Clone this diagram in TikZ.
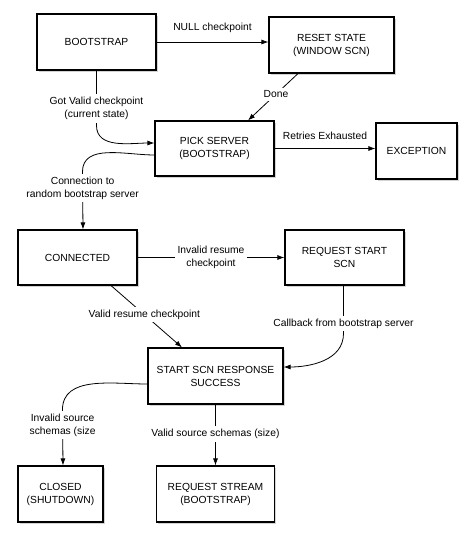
\documentclass[tikz,border=0pt]{standalone}
\usepackage{fontspec}
\setmainfont{Liberation Sans}
\usetikzlibrary{shadows,arrows.meta}

\begin{document}
\begin{tikzpicture}[x=1pt,y=1pt,>={Latex[length=7pt,width=5pt]},font=\fontsize{10.3}{13}\selectfont]

      \path[use as bounding box] (0,0) rectangle (474,-542);

      \begin{scope}[every node/.style={draw,line width=1.1pt,fill=white,align=center,
          drop shadow={shadow xshift=1.5pt,shadow yshift=-2pt,opacity=.35}}]
        \node[minimum width=119pt,minimum height=56pt] (1) at (96.5,-42) {BOOTSTRAP};
        \node[minimum width=125pt,minimum height=56pt] (2) at (331.5,-45) {RESET STATE\\(WINDOW SCN)};
        \node[minimum width=119pt,minimum height=55pt] (3) at (214.5,-148.5) {PICK SERVER\\(BOOTSTRAP)};
        \node[minimum width=81pt,minimum height=56pt] (5) at (416.5,-151) {EXCEPTION};
        \node[minimum width=119pt,minimum height=55pt] (4) at (77.5,-257.5) {CONNECTED};
        \node[minimum width=119pt,minimum height=55pt] (6) at (344.5,-257.5) {REQUEST START\\SCN};
        \node[minimum width=135pt,minimum height=56pt] (7) at (215.5,-376) {START SCN RESPONSE\\SUCCESS};
        \node[minimum width=85pt,minimum height=56pt] (8) at (60.5,-494) {CLOSED\\(SHUTDOWN)};
        \node[minimum width=118pt,minimum height=56pt] (9) at (215.5,-494) {REQUEST STREAM\\(BOOTSTRAP)};
      \end{scope}

      \begin{scope}[line width=.8pt,every node/.style={fill=white,align=center,inner sep=3pt}]

        \begin{scope}[every edge/.style={draw,->}]
          \path (1.east) edge node[above=6pt] {NULL checkpoint} (1.east -| 2.west);
          \path ([xshift=-33.5pt]2.south) edge node[pos=.44] {Done} ([xshift=33.5pt]3.north);
          \path (3.east) edge node[above=6pt] {Retries Exhausted} (3.east -| 5.west);
          \path (4.east) edge node {Invalid resume\\checkpoint} (6.west);
          \path ([xshift=33.5pt]4.south) edge node[pos=.47] {Valid resume checkpoint} ([xshift=-33.5pt]7.north);
          \path (7.south) edge node[pos=.48] {Valid source schemas (size)} (9.north);
        \end{scope}

        \draw[->] (1.south) -- node[pos=.69] {Got Valid checkpoint\\(current state)} ++(0,-55)
          to[out=-90,in=180] ([yshift=5.5pt]3.west);
        \draw[->] ([yshift=-6.5pt]3.west) to[out=180,in=90] ++(-72,-17)
          -- node[pos=.28] {Connection to\\random bootstrap server} ([xshift=5.5pt]4.north);
        \draw[->] ([xshift=-1pt]6.south) -- node[pos=.79] {Callback from bootstrap server} ++(0,-48)
          to[out=-90,in=0] ([yshift=9pt]7.east);
        \draw[->] ([yshift=-8pt]7.west) to[out=180,in=90] ++(-85,-26)
          -- node[pos=.27] {Invalid source\\schemas (size} ([xshift=2.5pt]8.north);

      \end{scope}

    \end{tikzpicture}
\end{document}
